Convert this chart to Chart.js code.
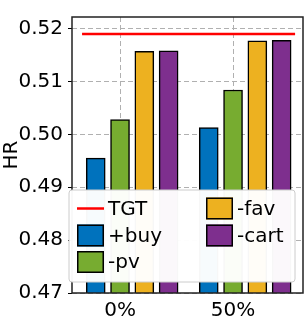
<!DOCTYPE html>
<html lang="en">
<head>
    <meta charset="UTF-8">
    <title>HR chart</title>
    <script src="https://cdn.jsdelivr.net/npm/chart.js@4.4.1/dist/chart.umd.min.js"></script>
    <style>
        body { margin: 0; background: #fff; }
        canvas { display: block; }
    </style>
</head>
<body>
    <canvas id="hrChart" width="308" height="319"></canvas>
<script>
    // data
    const categories = ['0%', '50%'];
    const seriesNames = ['+buy', '-pv', '-fav', '-cart'];
    const buyValues = [0.4955, 0.5013];
    const pvValues = [0.5028, 0.5084];
    const favValues = [0.5157, 0.5177];
    const cartValues = [0.5158, 0.5178];
    const targetLabel = 'TGT';
    const targetValue = 0.519;
    const yTicks = [0.47, 0.48, 0.49, 0.50, 0.51, 0.52];

    const seriesValues = [buyValues, pvValues, favValues, cartValues];
    const seriesColors = ['#0072BD', '#77AC30', '#EDB120', '#7E2F8E'];
    const FONT = 'DejaVu Sans';
    const barStep = 0.215; // bar offset within a group, in category units

    const barSets = seriesNames.map((name, i) => ({
        type: 'bar',
        label: name,
        data: seriesValues[i].map((v, c) => ({ x: c + (i - 1) * barStep, y: v })),
        backgroundColor: seriesColors[i],
        borderColor: '#000',
        borderWidth: 1.5,
        borderSkipped: 'start',
        barThickness: 19,
        grouped: false,
        order: 2
    }));

    const targetSet = {
        type: 'line',
        label: targetLabel,
        data: [{ x: -0.336, y: targetValue }, { x: categories.length - 1 + 0.549, y: targetValue }],
        borderColor: '#ff0000',
        borderWidth: 2.5,
        pointRadius: 0,
        order: 1
    };

    // matplotlib style legend: 2 columns, filled column by column
    const legendPlugin = {
        id: 'boxLegend',
        afterDraw(chart) {
            const ctx = chart.ctx;
            const area = chart.chartArea;
            const x0 = area.left - 3, x1 = area.right - 8;
            const y0 = area.bottom - 103, y1 = area.bottom - 11;
            ctx.save();
            ctx.beginPath();
            ctx.roundRect(x0, y0, x1 - x0, y1 - y0, 3);
            ctx.fillStyle = 'rgba(255,255,255,0.97)';
            ctx.fill();
            ctx.strokeStyle = '#cccccc';
            ctx.lineWidth = 1;
            ctx.stroke();

            const items = [targetSet, ...barSets];
            const colX = [x0 + 8, x0 + 137];
            const rowY = [y0 + 18.5, y0 + 45.5, y0 + 72];
            ctx.font = '20px "' + FONT + '"';
            ctx.textBaseline = 'middle';
            ctx.fillStyle = '#000';
            items.forEach((ds, k) => {
                const col = k < 3 ? 0 : 1;
                const row = k < 3 ? k : k - 3;
                const x = colX[col], y = rowY[row];
                if (ds.type === 'line') {
                    ctx.beginPath();
                    ctx.moveTo(x, y);
                    ctx.lineTo(x + 27, y);
                    ctx.strokeStyle = ds.borderColor;
                    ctx.lineWidth = 2.5;
                    ctx.stroke();
                } else {
                    ctx.fillStyle = ds.backgroundColor;
                    ctx.fillRect(x, y - 11, 27, 22);
                    ctx.strokeStyle = '#000';
                    ctx.lineWidth = 1.5;
                    ctx.strokeRect(x + 0.75, y - 10.25, 25.5, 20.5);
                }
                ctx.fillStyle = '#000';
                ctx.fillText(ds.label, x + 31, y + 1);
            });
            ctx.restore();
        }
    };

    const framePlugin = {
        id: 'frame',
        afterDatasetsDraw(chart) {
            const a = chart.chartArea;
            const ctx = chart.ctx;
            ctx.save();
            ctx.strokeStyle = '#222';
            ctx.lineWidth = 1.5;
            ctx.strokeRect(a.left, a.top, a.right - a.left, a.bottom - a.top);
            ctx.restore();
        }
    };

    new Chart(document.getElementById('hrChart'), {
        data: { datasets: [...barSets, targetSet] },
        options: {
            responsive: false,
            animation: false,
            layout: { padding: { top: 6, right: 5, left: 0, bottom: 0 } },
            plugins: { legend: { display: false }, tooltip: { enabled: false } },
            scales: {
                x: {
                    type: 'linear',
                    offset: false,
                    min: -0.425,
                    max: categories.length - 1 + 0.619,
                    afterBuildTicks: s => { s.ticks = categories.map((c, i) => ({ value: i })); },
                    afterFit: s => { s.height = 26; },
                    ticks: {
                        callback: v => categories[v],
                        font: { family: FONT, size: 20 },
                        color: '#000',
                        padding: 6,
                        maxRotation: 0
                    },
                    grid: {
                        offset: false,
                        color: '#b0b0b0',
                        lineWidth: 1,
                        drawTicks: false
                    },
                    border: { display: false, dash: [5, 3] }
                },
                y: {
                    min: 0.47,
                    max: 0.5222,
                    afterBuildTicks: s => { s.ticks = yTicks.map(v => ({ value: v })); },
                    afterFit: s => { s.width = 72; },
                    ticks: {
                        callback: v => v.toFixed(2),
                        font: { family: FONT, size: 20 },
                        color: '#000',
                        padding: 5
                    },
                    title: {
                        display: true,
                        text: 'HR',
                        font: { family: FONT, size: 20 },
                        color: '#000',
                        padding: 0
                    },
                    grid: {
                        color: '#b0b0b0',
                        lineWidth: 1,
                        tickColor: '#000',
                        tickLength: 4,
                        tickBorderDash: []
                    },
                    border: { display: false, dash: [5, 3] }
                }
            }
        },
        plugins: [framePlugin, legendPlugin]
    });
</script>
</body>
</html>
